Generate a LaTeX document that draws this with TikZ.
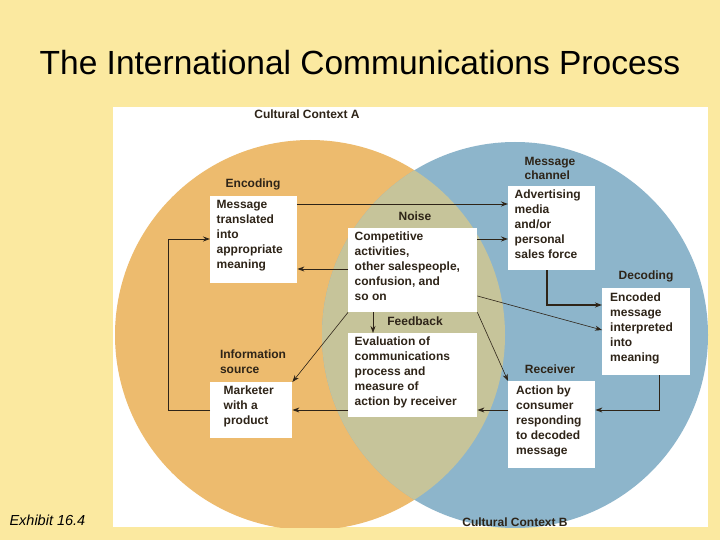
\documentclass[tikz,border=0pt]{standalone}
\usepackage{fontspec}
\setmainfont{Liberation Sans}
\usetikzlibrary{arrows.meta}
\definecolor{bg}{HTML}{FBE9A0}
\definecolor{orng}{HTML}{EDBB6E}
\definecolor{blu}{HTML}{8DB5CB}
\definecolor{ovl}{HTML}{C6C49A}
\definecolor{ink}{HTML}{2E2418}
\tikzset{
 box/.style={fill=white,draw=none,anchor=north west,inner sep=0pt,align=left,font=\bfseries\fontsize{12}{15}\selectfont,text=ink},
 lab/.style={font=\bfseries\fontsize{12}{13}\selectfont,text=ink,align=left},
 ar/.style={draw=ink,-{Stealth[length=7pt,width=5pt]},line width=0.9pt},
 thin/.style={draw=ink,-{Stealth[length=7pt,width=5pt]},line width=0.6pt},
}
\begin{document}
\begin{tikzpicture}[x=1pt,y=-1pt]
\fill[bg] (0,0) rectangle (720,540);
\node[font=\fontsize{33.5}{36}\selectfont] (title) at (360,63) {The International Communications Process};
\node[font=\itshape\fontsize{14.5}{16}\selectfont,anchor=west] (ex) at (6,520) {Exhibit 16.4};
\fill[white] (113,107) rectangle (708,527);
\begin{scope}
\clip (113,107) rectangle (708,527);
\fill[orng] (310,335) circle (195);
\fill[blu] (515,335) circle (193);
\begin{scope}
\clip (310,335) circle (195);
\fill[ovl] (515,335) circle (193);
\end{scope}
\end{scope}
\node[lab] (cca) at (307,114) {Cultural Context A};
\node[lab] (ccb) at (515,522) {Cultural Context B};
\node[lab] (enc) at (253,184) {Encoding};
\node[lab] (noise) at (415,216) {Noise};
\node[lab,font=\bfseries\fontsize{12}{14}\selectfont] (mch) at (550,168) {Message\\channel};
\node[lab] (dec) at (646,276) {Decoding};
\node[lab] (fb) at (415,321) {Feedback};
\node[lab,font=\bfseries\fontsize{12}{15}\selectfont] (info) at (253,362) {Information\\source};
\node[lab] (rec) at (550,369) {Receiver};
\node[box,minimum width=87pt,minimum height=87pt] (msg) at (210,196) {\hspace{6pt}\parbox[t][80pt]{80pt}{\vspace{1pt}Message\\translated\\into\\appropriate\\meaning}};
\node[box,minimum width=129pt,minimum height=84pt] (comp) at (348,228) {\hspace{6pt}\parbox[t][78pt]{122pt}{\vspace{1pt}Competitive\\activities,\\other salespeople,\\confusion, and\\so on}};
\node[box,minimum width=87pt,minimum height=84pt] (adv) at (508,186) {\hspace{6pt}\parbox[t][78pt]{80pt}{\vspace{1pt}Advertising\\media\\and/or\\personal\\sales force}};
\node[box,minimum width=88pt,minimum height=87pt] (encd) at (602,288) {\hspace{8pt}\parbox[t][80pt]{80pt}{\vspace{1pt}Encoded\\message\\interpreted\\into\\meaning}};
\node[box,minimum width=129pt,minimum height=84pt] (eval) at (348,333) {\hspace{6pt}\parbox[t][78pt]{122pt}{\vspace{1pt}Evaluation of\\communications\\process and\\measure of\\action by receiver}};
\node[box,minimum width=82pt,minimum height=56pt] (mkt) at (210,382) {\hspace{13pt}\parbox[t][50pt]{68pt}{\vspace{1pt}Marketer\\with a\\product}};
\node[box,minimum width=87pt,minimum height=87pt] (act) at (508,381) {\hspace{8pt}\parbox[t][80pt]{79pt}{\vspace{1pt}Action by\\consumer\\responding\\to decoded\\message}};
\draw[ar] (msg.east |- 0,204) -- (adv.west |- 0,204);
\draw[ar] (comp.east |- 0,239) -- (adv.west |- 0,239);
\draw[ar] (comp.west |- 0,269) -- (msg.east |- 0,269);
\draw[ar,line width=2pt] (547,270) |- (encd.west |- 0,305);
\draw[thin] (comp.east |- 0,296) -- (encd.west |- 0,330);
\draw[thin] (373,312) -- (eval.north -| 373,0);
\draw[thin] (comp.south west) -- (mkt.north east);
\draw[thin] (comp.south east) -- (act.north west);
\draw[ar] (659,375) |- (act.east |- 0,410);
\draw[ar] (act.west |- 0,410) -- (eval.east |- 0,410);
\draw[ar] (eval.west |- 0,410) -- (mkt.east |- 0,410);
\draw[ar] (mkt.west |- 0,410) -- (168,410) -- (168,239) -- (msg.west |- 0,239);
\end{tikzpicture}
\end{document}
